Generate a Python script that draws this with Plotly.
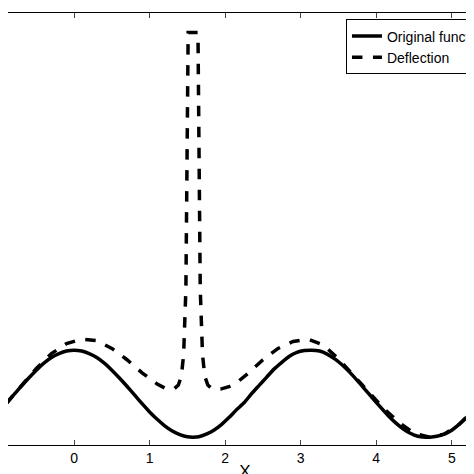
import plotly.graph_objects as go

orig_x = [-0.9,-0.8,-0.7,-0.6,-0.5,-0.4,-0.3,-0.2,-0.1,0.0,0.1,0.2,0.3,0.4,0.5,0.6,0.7,0.8,0.9,1.0,1.1,1.2,1.3,1.4,1.5,1.57,1.65,1.75,1.85,1.95,2.05,2.15,2.25,2.35,2.45,2.55,2.65,2.75,2.85,2.95,3.05,3.14,3.25,3.35,3.45,3.55,3.65,3.75,3.85,3.95,4.05,4.15,4.25,4.35,4.45,4.55,4.65,4.71,4.8,4.9,5.0,5.1,5.2,5.3,5.4]
orig_y = [-0.23,-0.03,0.17,0.36,0.54,0.70,0.83,0.92,0.98,1.0,0.98,0.92,0.83,0.70,0.54,0.36,0.17,-0.03,-0.23,-0.42,-0.59,-0.74,-0.86,-0.94,-0.99,-1.0,-0.99,-0.93,-0.84,-0.71,-0.55,-0.37,-0.21,0.0,0.19,0.38,0.57,0.72,0.86,0.95,0.99,1.0,0.98,0.91,0.80,0.66,0.49,0.30,0.10,-0.10,-0.30,-0.49,-0.66,-0.80,-0.91,-0.98,-1.0,-1.0,-0.98,-0.93,-0.84,-0.70,-0.54,-0.36,-0.17]

defl_x = [-0.9,-0.7,-0.5,-0.3,-0.1,0.1,0.3,0.5,0.7,0.9,1.0,1.1,1.2,1.27,1.33,1.38,1.42,1.45,1.48,1.51,1.64,1.67,1.7,1.73,1.77,1.82,1.88,1.95,2.05,2.15,2.3,2.5,2.7,2.9,3.1,3.3,3.5,3.7,3.9,4.1,4.3,4.5,4.71,4.9,5.1,5.3,5.4]
defl_y = [-0.23,0.18,0.58,0.92,1.15,1.25,1.22,1.04,0.78,0.48,0.34,0.22,0.13,0.1,0.12,0.2,0.4,0.9,2.4,8.3,8.3,2.4,0.9,0.4,0.2,0.12,0.1,0.11,0.16,0.25,0.46,0.78,1.04,1.2,1.25,1.12,0.8,0.42,0.04,-0.34,-0.66,-0.91,-1.0,-0.93,-0.70,-0.36,-0.17]

fig = go.Figure()
fig.add_trace(go.Scatter(x=orig_x, y=orig_y, mode="lines", name="Original function",
                         line=dict(color="black", width=3.5, shape="spline", smoothing=0.6)))
fig.add_trace(go.Scatter(x=defl_x, y=defl_y, mode="lines", name="Deflection",
                         line=dict(color="black", width=3.5, dash="dash")))
fig.update_layout(
    width=474, height=474, paper_bgcolor="white", plot_bgcolor="white",
    margin=dict(l=0, r=0, t=5, b=37, autoexpand=False),
    font=dict(family="Liberation Sans", size=14, color="black"),
    xaxis=dict(range=[-0.875, 5.4], tickvals=[0,1,2,3,4,5], ticks="inside", ticklen=5,
               showline=True, linecolor="black", mirror="ticks", showgrid=False, zeroline=False,
               title=dict(text="X", standoff=0), automargin=False),
    yaxis=dict(range=[-1.18, 8.75], showticklabels=False, showgrid=False, zeroline=False,
               automargin=False),
    legend=dict(x=0.713, y=0.985, xanchor="left", yanchor="top", bgcolor="white",
                bordercolor="black", borderwidth=1, font=dict(size=14),
                tracegroupgap=0),
    showlegend=True,
)
fig.write_html("out.html")
